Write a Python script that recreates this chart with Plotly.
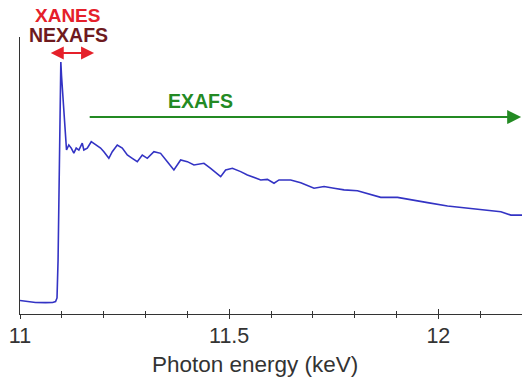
import plotly.graph_objects as go

# Photon energy (keV) and normalized absorption (arb. units)
energy = [11.000, 11.013, 11.025, 11.037, 11.061, 11.078, 11.085, 11.0885, 11.091, 11.093,
          11.0957, 11.0976, 11.0993, 11.1012, 11.1033, 11.1053, 11.1072, 11.1089, 11.1112,
          11.1167, 11.1225, 11.1287, 11.1344, 11.1407, 11.1488, 11.1526, 11.1608, 11.1703,
          11.1806, 11.1926, 11.2005, 11.2124, 11.2206, 11.2325, 11.2445, 11.2565, 11.2684,
          11.2804, 11.2923, 11.3043, 11.3201, 11.3361, 11.3522, 11.3679, 11.3840, 11.4000,
          11.4158, 11.4397, 11.4557, 11.4718, 11.4797, 11.4916, 11.5077, 11.5275, 11.5435,
          11.5754, 11.5914, 11.6072, 11.6191, 11.6471, 11.6711, 11.7029, 11.7268, 11.7507,
          11.7746, 11.8067, 11.8385, 11.8624, 11.9024, 11.9263, 11.9742, 12.0220, 12.0699,
          12.1177, 12.1495, 12.1734, 12.2022]
absorption = [0.049, 0.047, 0.043, 0.0415, 0.041, 0.0415, 0.045, 0.058, 0.195, 0.484,
              0.773, 0.910, 0.859, 0.816, 0.783, 0.718, 0.675, 0.628, 0.592,
              0.610, 0.599, 0.581, 0.599, 0.592, 0.617, 0.592, 0.599, 0.622,
              0.610, 0.599, 0.586, 0.562, 0.586, 0.610, 0.599, 0.574, 0.562,
              0.550, 0.574, 0.562, 0.586, 0.580, 0.550, 0.520, 0.556, 0.550,
              0.538, 0.544, 0.526, 0.508, 0.496, 0.520, 0.526, 0.514, 0.502,
              0.484, 0.486, 0.472, 0.484, 0.484, 0.474, 0.454, 0.460, 0.454,
              0.448, 0.445, 0.430, 0.421, 0.421, 0.414, 0.402, 0.390, 0.382,
              0.375, 0.369, 0.357, 0.357]

xtick_vals = [11, 11.5, 12]
xtick_text = ["11", "11.5", "12"]
x_title = "Photon energy (keV)"

# region markers (energy ranges)
xanes_range = [11.070, 11.177]
exafs_range = [11.163, 12.198]

fig = go.Figure()
fig.add_trace(go.Scatter(x=energy, y=absorption, mode="lines",
                         line=dict(color="#3333c4", width=1.6), hoverinfo="skip",
                         showlegend=False, cliponaxis=False))
# second (invisible) trace for the overlaid axis carrying downward ticks
fig.add_trace(go.Scatter(x=[energy[0]], y=[absorption[0]], xaxis="x2", mode="markers",
                         marker=dict(opacity=0), showlegend=False, hoverinfo="skip"))

fig.update_layout(
    width=522, height=384,
    margin=dict(l=20, r=0, t=37, b=70, autoexpand=False),
    paper_bgcolor="white", plot_bgcolor="white",
    font=dict(family="Liberation Sans, Arial, sans-serif", color="#333333"),
    xaxis=dict(range=[11, 12.2], tickvals=xtick_vals, ticktext=xtick_text,
               ticks="inside", ticklen=5, tickwidth=1, tickcolor="#333",
               minor=dict(dtick=0.1, tick0=11, ticks="inside", ticklen=3,
                          tickwidth=1, tickcolor="#333"),
               showline=True, linecolor="#333", linewidth=1, showgrid=False,
               zeroline=False, tickfont=dict(size=21.5, color="#333"), automargin=False,
               ticklabelstandoff=2),
    xaxis2=dict(range=[11, 12.2], overlaying="x", side="bottom", tickvals=xtick_vals,
                ticks="outside", ticklen=4, tickwidth=1, tickcolor="#333",
                minor=dict(dtick=0.1, tick0=11, ticks="outside", ticklen=3,
                           tickwidth=1, tickcolor="#333"),
                showticklabels=False, showgrid=False, zeroline=False, showline=False,
                automargin=False),
    yaxis=dict(range=[0, 1], showline=True, linecolor="#333", linewidth=1,
               showticklabels=False, ticks="", showgrid=False, zeroline=False,
               automargin=False),
)

# axis title (slightly left of the plot centre, as in the original)
fig.add_annotation(x=0.468, y=-0.181, xref="paper", yref="paper", text=x_title,
                   xanchor="center", yanchor="middle", showarrow=False,
                   font=dict(size=22.5, color="#333"))

# XANES / NEXAFS double arrow
fig.add_annotation(x=xanes_range[1], y=0.942, ax=xanes_range[0], ay=0.942,
                   xref="x", yref="y", axref="x", ayref="y", showarrow=True,
                   arrowhead=2, startarrowhead=2, arrowside="end+start",
                   arrowsize=1.3, startarrowsize=1.3, arrowwidth=2, arrowcolor="#e5202a",
                   text="")
fig.add_annotation(x=11.114, y=1.079, xref="x", yref="paper", text="<b>XANES</b>",
                   xanchor="center", yanchor="middle",
                   showarrow=False, font=dict(size=19, color="#e5202a"))
fig.add_annotation(x=11.116, y=1.006, xref="x", yref="paper", text="<b>NEXAFS</b>",
                   xanchor="center", yanchor="middle",
                   showarrow=False, font=dict(size=19.5, color="#6e1a1e"))

# EXAFS arrow
fig.add_annotation(x=exafs_range[1], y=0.711, ax=exafs_range[0], ay=0.711,
                   xref="x", yref="y", axref="x", ayref="y", showarrow=True,
                   arrowhead=2, arrowsize=1.4, arrowwidth=2, arrowcolor="#238a23",
                   text="")
fig.add_annotation(x=11.431, y=0.768, xref="x", yref="y", text="<b>EXAFS</b>",
                   xanchor="center", yanchor="middle",
                   showarrow=False, font=dict(size=19.5, color="#238a23"))

fig.write_html("out.html", config={"displayModeBar": False},
               post_script="document.body.style.margin='0';"
                           "document.body.style.overflow='hidden';")
